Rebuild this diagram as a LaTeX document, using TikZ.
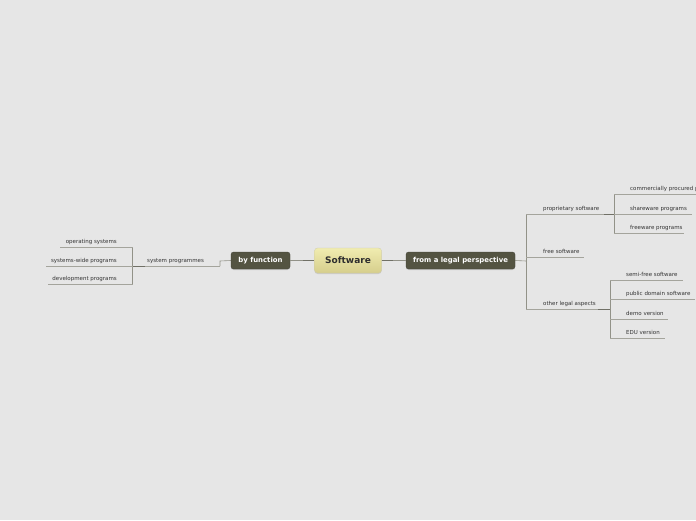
\documentclass[tikz,border=0pt]{standalone}
\usepackage{fontspec}
\setmainfont{DejaVu Sans}
\usetikzlibrary{shadows,calc}
\definecolor{bg}{HTML}{E6E6E6}
\definecolor{linec}{HTML}{A4A49C}
\definecolor{branchc}{HTML}{929288}
\definecolor{joinc}{HTML}{707066}
\definecolor{darkbox}{HTML}{545442}
\definecolor{darkedge}{HTML}{44443A}
\definecolor{yelltop}{HTML}{F0ECB0}
\definecolor{yellbot}{HTML}{D6CE8C}
\definecolor{txt}{HTML}{333333}
\begin{document}
\begin{tikzpicture}[x=1pt,y=-1pt,
  root/.style={draw=yellbot!80!black!60, line width=0.3pt, rounded corners=3pt, top color=yelltop, bottom color=yellbot,
     minimum width=67pt, minimum height=25pt, inner sep=0pt, font=\fontsize{9}{10}\selectfont\bfseries, text=txt!90!black,
     drop shadow={shadow xshift=0pt, shadow yshift=-1pt, opacity=0.25}},
  mainbox/.style={draw=darkedge, line width=0.3pt, fill=darkbox, rounded corners=2.5pt, minimum height=17pt, inner sep=0pt,
     font=\fontsize{6.9}{7.5}\selectfont\bfseries, text=white,
     drop shadow={shadow xshift=0pt, shadow yshift=-1pt, opacity=0.25}},
  lbl/.style={inner sep=0pt, font=\fontsize{5.5}{6}\selectfont, text=txt},
  link/.style={draw=branchc, line width=0.6pt},
  uline/.style={draw=linec, line width=0.6pt},
  joinseg/.style={draw=joinc, line width=1pt}
]
\useasboundingbox[fill=bg] (0,0) rectangle (696,520);
\clip (0,0) rectangle (696,520);

% main nodes
\node[root] (sw) at (348,260.5) {Software};
\node[mainbox, minimum width=59pt] (fn) at (260.5,260.5) {by function};
\node[mainbox, minimum width=109pt] (lg) at (460.5,260.5) {from a legal perspective};

\draw[link] (fn.east) -- (sw.west);
\draw[link] (sw.east) -- (lg.west);
\draw[joinseg] ($(sw.west)+(-11,0)$) -- (sw.west);
\draw[joinseg] (sw.east) -- ++(11,0);

% ---------------- right tree
\coordinate (r0) at (526,261);
\coordinate (rtop) at (526,214);
\coordinate (rbot) at (526,309);
\draw[link] (lg.east) -- (r0);
\draw[link] (rtop) -- (rbot);

\node[lbl, anchor=base west] (prop) at (543,210) {proprietary software};
\node[lbl, anchor=base west] (free) at (543,253) {free software};
\node[lbl, anchor=base west] (other) at (543,305) {other legal aspects};

\coordinate (pj) at (614,214);
\coordinate (oj) at (610,309);
\draw[uline] (rtop) -- (pj);
\draw[uline] (526,257) -- (584,257);
\draw[uline] (rbot) -- (oj);
\draw[joinseg] (604,214) -- (pj);
\draw[joinseg] (598,309) -- (oj);

% proprietary children
\draw[link] (614,194) -- (614,233);
\node[lbl, anchor=base west] (comm) at (630,190.5) {commercially procured programs};
\node[lbl, anchor=base west] (share) at (630,210) {shareware programs};
\node[lbl, anchor=base west] (freew) at (630,229.5) {freeware programs};
\draw[uline] (614,194) -- (700,194);
\draw[uline] (pj) -- (692,214);
\draw[uline] (614,233) -- (684,233);

% other legal children
\draw[link] (610,280) -- (610,338.5);
\node[lbl, anchor=base west] (semi) at (626,276) {semi-free software};
\node[lbl, anchor=base west] (pub) at (626,295.5) {public domain software};
\node[lbl, anchor=base west] (demo) at (626,315) {demo version};
\node[lbl, anchor=base west] (edu) at (626,334.5) {EDU version};
\draw[uline] (610,280) -- (683,280);
\draw[uline] (610,299.5) -- (695,299.5);
\draw[uline] (610,319) -- (668,319);
\draw[uline] (610,338.5) -- (665,338.5);

% ---------------- left tree
\coordinate (lj) at (220,261);
\draw[link] (fn.west) -- (lj) -- (220,266);
\node[lbl, anchor=base west] (sys) at (147,262) {system programmes};
\coordinate (sj) at (132.5,266);
\draw[uline] (220,266) -- (sj);
\draw[joinseg] (145,266) -- (sj);
\draw[link] (132.5,247) -- (132.5,284.5);

\node[lbl, anchor=base east] (os) at (117,243) {operating systems};
\node[lbl, anchor=base east] (swp) at (117,262) {systems-wide programs};
\node[lbl, anchor=base east] (dev) at (117,280.5) {development programs};
\draw[uline] (60,247) -- (132.5,247);
\draw[uline] (46,266) -- (sj);
\draw[uline] (48,284.5) -- (132.5,284.5);
\end{tikzpicture}
\end{document}
